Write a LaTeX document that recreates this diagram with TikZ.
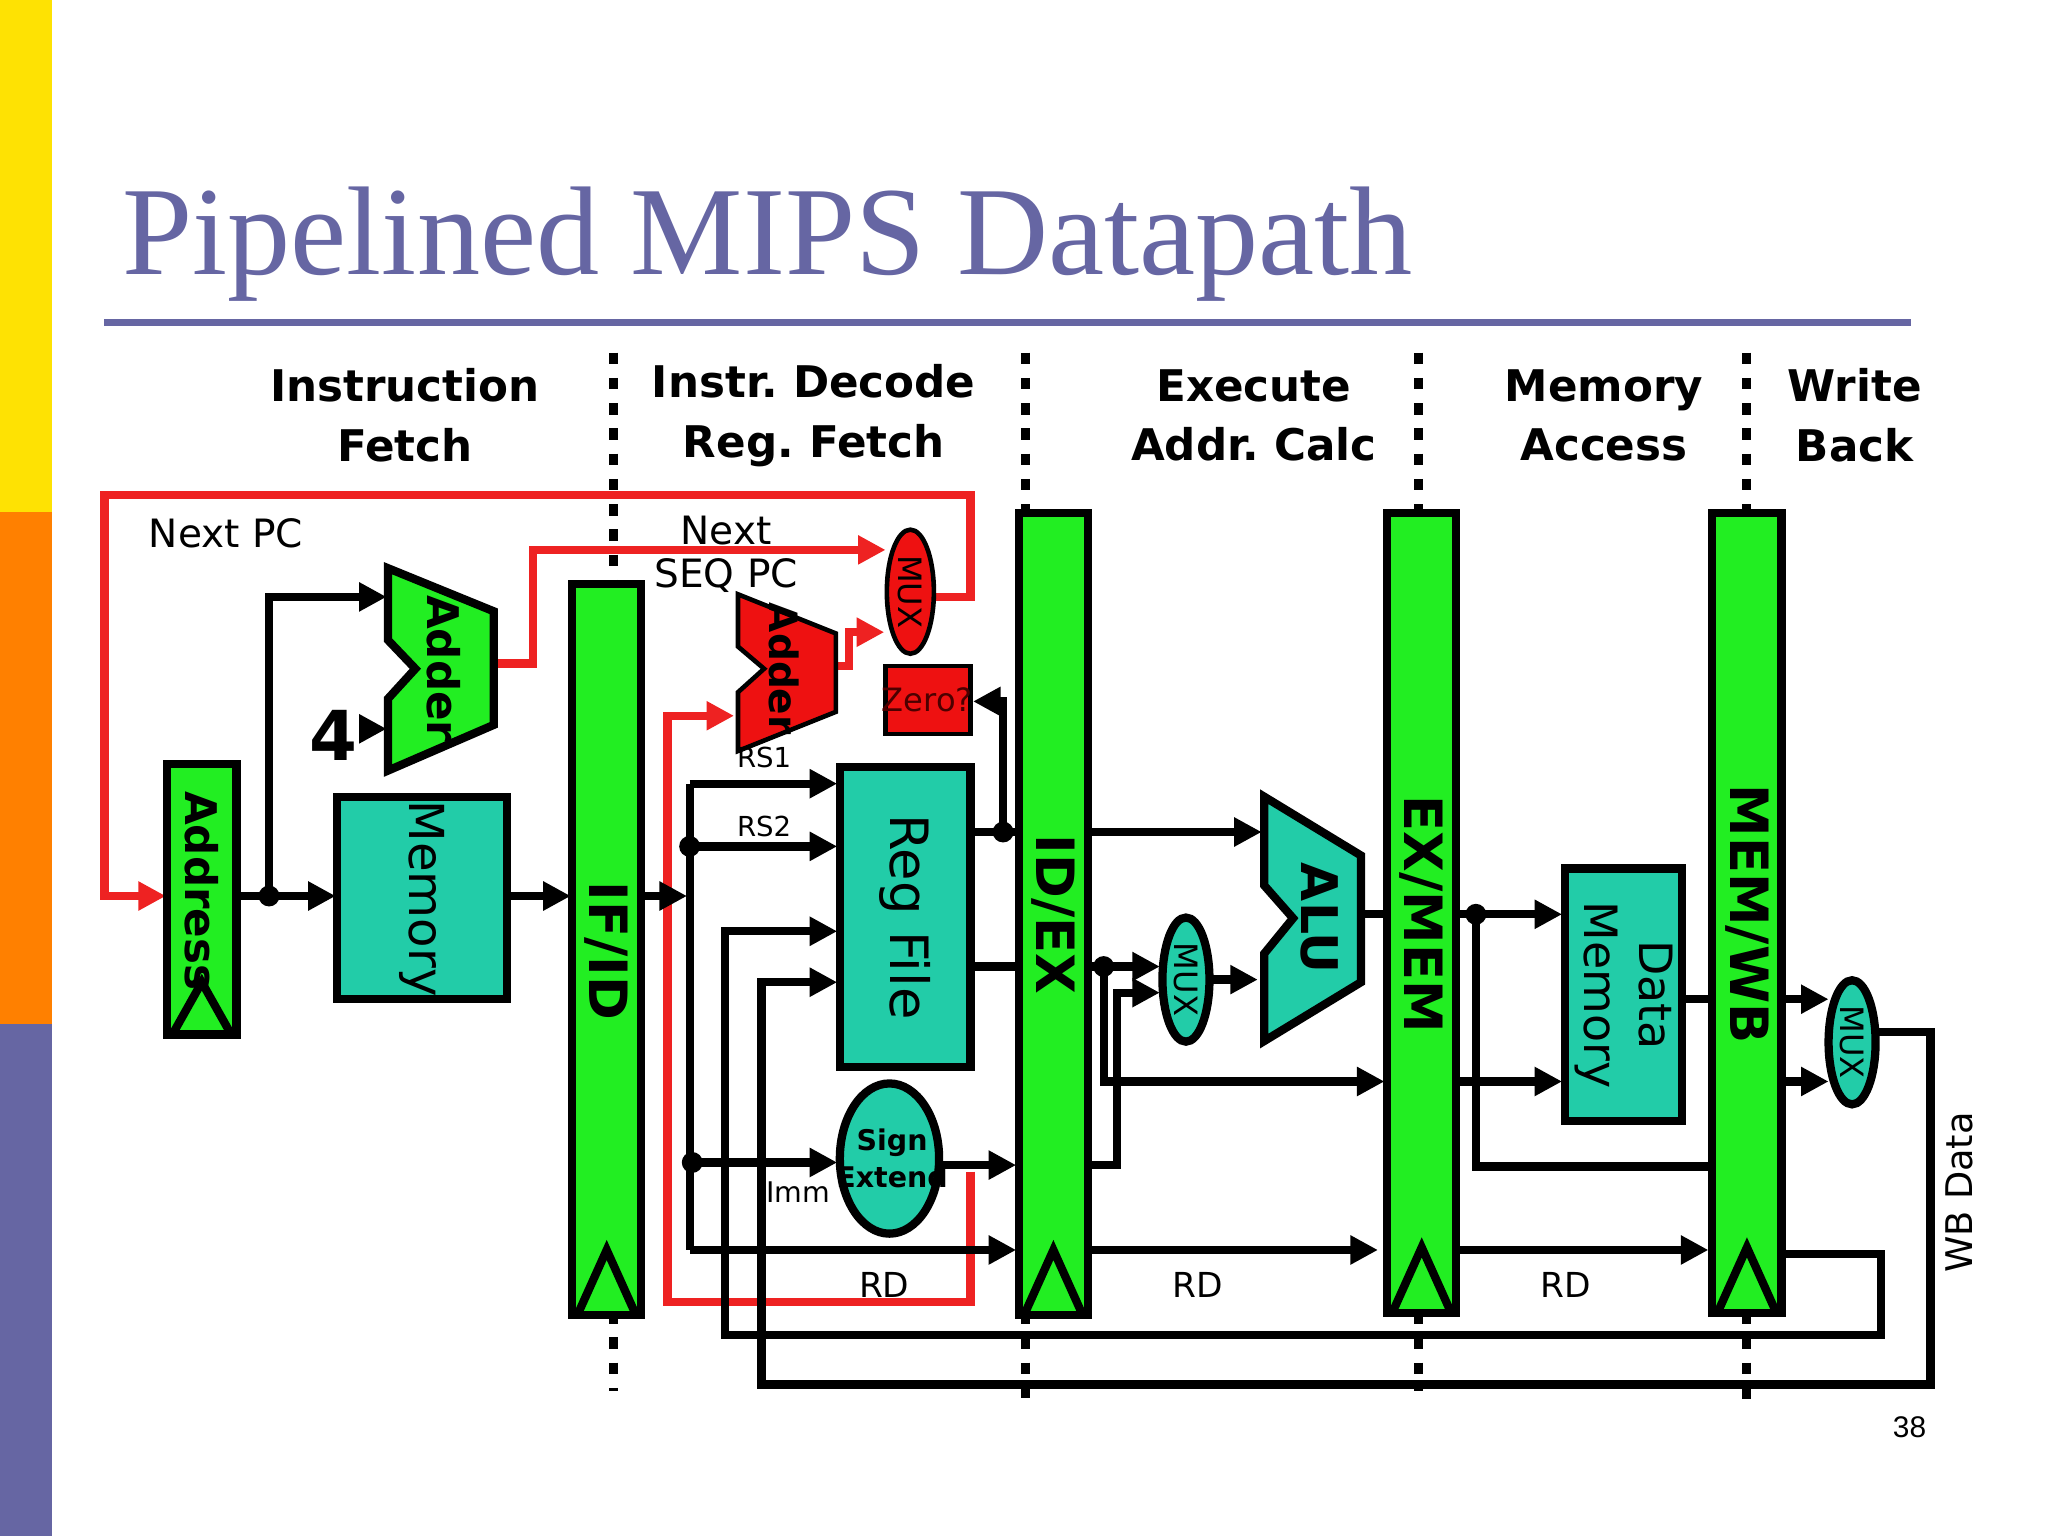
\documentclass[tikz,border=0pt]{standalone}
\usepackage{fontspec}
\setmainfont{Liberation Serif}
\newfontfamily\hfont{DejaVu Sans}
\usetikzlibrary{shapes.geometric,arrows.meta}
\definecolor{ttl}{HTML}{6666A3}
\definecolor{grn}{HTML}{22EE22}
\definecolor{teal}{HTML}{22CCA8}
\definecolor{rd}{HTML}{EE1111}
\definecolor{wr}{HTML}{EE2222}
\tikzset{
 w/.style={line width=1.8pt,black},
 wa/.style={w,-{Triangle[length=6pt,width=6pt]}},
 rw/.style={line width=1.8pt,wr},
 rwa/.style={rw,-{Triangle[length=6pt,width=6pt]}},
 blk/.style={draw=black,line width=1.8pt},
 lbl/.style={font=\hfont\fontsize{7}{8}\selectfont},
 hdr/.style={font=\hfont\bfseries\fontsize{9.5}{13}\selectfont,align=center},
 vlab/.style={font=\hfont\bfseries\fontsize{9.5}{10}\selectfont,rotate=-90},
 dotv/.style={line width=2pt,dash pattern=on 2.5pt off 3pt}
}
\begin{document}
\begin{tikzpicture}[x=0.1mm,y=-0.1mm]
\useasboundingbox (0,0) rectangle (1568,1176);
\fill[white] (0,0) rectangle (1568,1176);
\fill[yellow!85!orange] (0,0) rectangle (40,392);
\fill[orange] (0,392) rectangle (40,784);
\fill[ttl] (0,784) rectangle (40,1176);
\node[anchor=base west,text=ttl,font=\fontsize{27.5}{30}\selectfont,inner sep=0] (title) at (93,210) {Pipelined MIPS Datapath};
\draw[ttl,line width=1.5pt] (80,247) -- (1463,247);
% headers
\node[hdr] (h1) at (310,318) {Instruction\\Fetch};
\node[hdr] (h2) at (623,318) {Instr.\ Decode\\Reg.\ Fetch};
\node[hdr] (h3) at (960,318) {Execute\\Addr.\ Calc};
\node[hdr] (h4) at (1228,318) {Memory\\Access};
\node[hdr] (h5) at (1420,318) {Write\\Back};
\foreach \x/\a/\b in {470/270/1065,785/270/1070,1086/270/1065,1337/270/1075}
 \draw[dotv] (\x,\a) -- (\x,\b);
% red wires
\draw[rwa] (715,457) -- (743,457) -- (743,379) -- (80,379) -- (80,686) -- (127,686);
\draw[rwa] (378,508) -- (408,508) -- (408,421) -- (678,421);
\draw[rwa] (640,510) -- (650,510) -- (650,484) -- (677,484);
\draw[rwa] (743,897) -- (743,997) -- (511,997) -- (511,548) -- (562,548);
% black wires
\draw[wa] (181,686) -- (257,686);
\draw[wa] (206,686) -- (206,457) -- (296,457);
\draw[wa] (276,558) -- (296,558);
\draw[wa] (388,686) -- (437,686);
\draw[wa] (491,686) -- (526,686);
\draw[w] (528,600) -- (528,957);
\draw[wa] (528,600) -- (641,600);
\draw[wa] (528,648) -- (641,648);
\draw[wa] (528,890) -- (641,890);
\draw[wa] (528,957) -- (778,957);
\draw[wa] (1363,960) -- (1440,960) -- (1440,1022) -- (555,1022) -- (555,713) -- (641,713);
\draw[wa] (1436,790) -- (1478,790) -- (1478,1060) -- (583,1060) -- (583,752) -- (641,752);
\draw[w] (743,637) -- (780,637);
\draw[wa] (768,637) -- (768,537) -- (745,537);
\draw[w] (743,740) -- (780,740);
\draw[wa] (718,892) -- (778,892);
\draw[wa] (833,637) -- (966,637);
\draw[wa] (833,740) -- (888,740);
\draw[wa] (845,740) -- (845,828) -- (1060,828);
\draw[wa] (833,892) -- (855,892) -- (855,760) -- (888,760);
\draw[wa] (926,750) -- (963,750);
\draw[w] (1042,700) -- (1062,700);
\draw[wa] (833,957) -- (1055,957);
\draw[wa] (1115,700) -- (1196,700);
\draw[w] (1130,700) -- (1130,893) -- (1311,893);
\draw[wa] (1115,828) -- (1196,828);
\draw[wa] (1115,957) -- (1308,957);
\draw[w] (1288,765) -- (1311,765);
\draw[wa] (1363,765) -- (1400,765);
\draw[wa] (1363,828) -- (1400,828);
\foreach \p in {(206,686),(528,648),(530,890),(768,637),(845,740),(1130,700)}
 \fill \p circle (8);
% pipeline registers
\foreach \n/\l/\t/\b/\txt/\ty in {ifid/438/447/1007/{IF/ID}/728,idex/780/393/1007/{ID/EX}/700,exmem/1062/393/1005/{EX/MEM}/700,memwb/1311/393/1005/{MEM/WB}/700}{
 \draw[blk,fill=grn] (\l,\t) rectangle (\l+53,\b);
 \draw[blk] (\l+4,\b) -- (\l+26.5,\b-50) -- (\l+49,\b);
 \node[vlab,font=\hfont\bfseries\fontsize{11.5}{12}\selectfont] (\n) at (\l+26.5,\ty) {\txt};
}
% Address
\draw[blk,fill=grn] (128,585) rectangle (181,792);
\draw[blk] (132,792) -- (154.5,752) -- (177,792);
\node[vlab] (addr) at (154.5,682) {Address};
% Memory
\draw[blk,fill=teal] (258,610) rectangle (388,765);
\node[vlab,font=\hfont\fontsize{10.5}{11}\selectfont] (mem) at (323,688) {Memory};
% IF adder
\draw[blk,fill=grn] (297,435) -- (378,468) -- (378,555) -- (297,590) -- (297,535) -- (318,512) -- (297,490) -- cycle;
\node[vlab] (add1) at (340,512) {Adder};
\node[font=\hfont\bfseries\fontsize{15}{15}\selectfont] (four) at (255,563) {4};
% ID adder
\draw[line width=1pt,fill=rd] (565,455) -- (640,485) -- (640,545) -- (565,575) -- (565,530) -- (585,512) -- (565,495) -- cycle;
\node[vlab,font=\hfont\bfseries\fontsize{8.5}{9}\selectfont] (add2) at (600,512) {Adder};
% red mux
\node[ellipse,draw=black,line width=1pt,fill=rd,minimum width=3.6mm,minimum height=9.5mm,inner sep=0] (mux1) at (697,453) {};
\node[vlab,font=\hfont\fontsize{7}{7}\selectfont] at (mux1) {MUX};
% Zero?
\draw[line width=1pt,fill=rd] (678,510) rectangle (743,562);
\node[font=\hfont\fontsize{7}{7}\selectfont,text=black!70!red] (zero) at (710,536) {Zero?};
% Reg file
\draw[blk,fill=teal] (643,587) rectangle (743,817);
\node[vlab,font=\hfont\fontsize{11.5}{12}\selectfont] (rf) at (693,702) {Reg File};
% Sign extend
\node[ellipse,draw=black,line width=1.8pt,fill=teal,minimum width=7.6mm,minimum height=11.5mm,inner sep=0] (se) at (681,887) {};
\node[font=\hfont\bfseries\fontsize{6.2}{8}\selectfont,align=center] at (683,887) {Sign\\Extend};
% ALU
\draw[blk,fill=teal] (968,610) -- (1042,655) -- (1042,752) -- (968,797) -- (968,730) -- (990,703) -- (968,678) -- cycle;
\node[vlab,font=\hfont\bfseries\fontsize{11}{11}\selectfont] (alu) at (1010,703) {ALU};
% EX mux
\node[ellipse,draw=black,line width=1.8pt,fill=teal,minimum width=3.6mm,minimum height=9.5mm,inner sep=0] (mux2) at (908,750) {};
\node[vlab,font=\hfont\fontsize{7}{7}\selectfont] at (mux2) {MUX};
% Data memory
\draw[blk,fill=teal] (1198,665) rectangle (1288,858);
\node[vlab,font=\hfont\fontsize{10}{12}\selectfont,align=center] (dm) at (1243,762) {Data\\Memory};
% WB mux
\node[ellipse,draw=black,line width=1.8pt,fill=teal,minimum width=3.6mm,minimum height=9.5mm,inner sep=0] (mux3) at (1418,798) {};
\node[vlab,font=\hfont\fontsize{7}{7}\selectfont] at (mux3) {MUX};
% labels
\node[font=\hfont\fontsize{8.5}{9}\selectfont] (l1) at (173,408) {Next PC};
\node[font=\hfont\fontsize{8.5}{9}\selectfont] (l2) at (556,406) {Next};
\node[font=\hfont\fontsize{8.5}{9}\selectfont] (l3) at (556,441) {SEQ PC};
\node[font=\hfont\fontsize{6}{7}\selectfont] (l4) at (585,580) {RS1};
\node[font=\hfont\fontsize{6}{7}\selectfont] (l5) at (585,633) {RS2};
\node[font=\hfont\fontsize{6.2}{7}\selectfont] (l6) at (611,913) {Imm};
\node[font=\hfont\fontsize{7.5}{8}\selectfont] (l7) at (677,984) {RD};
\node[font=\hfont\fontsize{7.5}{8}\selectfont] (l8) at (917,984) {RD};
\node[font=\hfont\fontsize{7.5}{8}\selectfont] (l9) at (1199,984) {RD};
\node[font=\hfont\fontsize{8}{8}\selectfont,rotate=90] (l10) at (1500,913) {WB Data};
\node[font=\fontspec{Liberation Sans}\fontsize{6.5}{7}\selectfont] (pg) at (1462,1093) {38};
\end{tikzpicture}
\end{document}
